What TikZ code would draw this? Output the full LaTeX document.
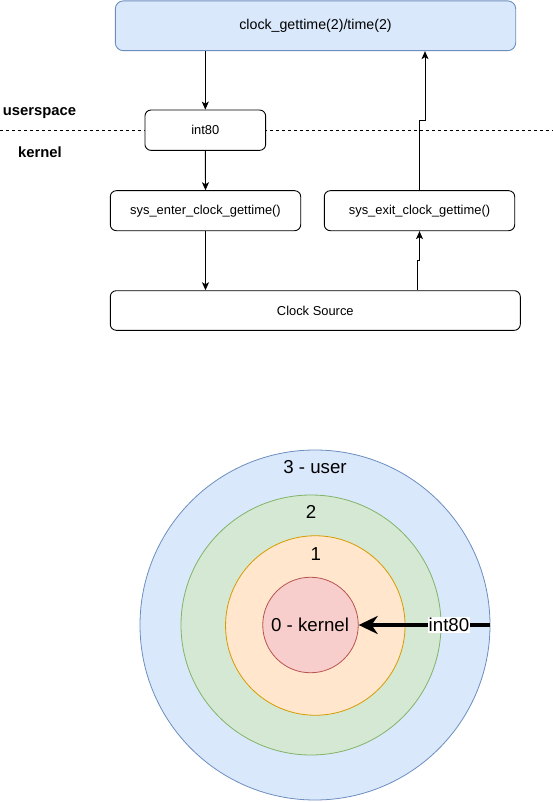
\documentclass[tikz,border=0pt]{standalone}
\usepackage{fontspec}
\setmainfont{Liberation Sans}
\usetikzlibrary{arrows.meta}
\definecolor{bluefill}{HTML}{DAE8FC}
\definecolor{bluedraw}{HTML}{6C8EBF}
\definecolor{greenfill}{HTML}{D5E8D4}
\definecolor{greendraw}{HTML}{82B366}
\definecolor{orangefill}{HTML}{FFE6CC}
\definecolor{orangedraw}{HTML}{D79B00}
\definecolor{redfill}{HTML}{F8CECC}
\definecolor{reddraw}{HTML}{B85450}
\tikzset{
  box/.style={draw=black, line width=0.9pt, rounded corners=6pt, fill=white, inner sep=0pt,
    font=\fontsize{12.9}{15}\selectfont},
  arr/.style={draw=black, line width=0.9pt, -{Stealth[length=8pt,width=7pt,inset=2pt]}},
  ring/.style={circle, line width=0.8pt, inner sep=0pt},
  bigtxt/.style={font=\fontsize{18.7}{22}\selectfont},
  sidelbl/.style={font=\bfseries\fontsize{14.8}{17}\selectfont, inner sep=0pt},
}
\begin{document}
\begin{tikzpicture}[x=1pt,y=-1pt]
\useasboundingbox (0,0) rectangle (553,802);
% dashed separator
\coordinate (dl) at (0,130);
\coordinate (dr) at (553,130);
\draw[line width=0.8pt, dash pattern=on 3pt off 3pt] (dl) -- (dr);
\node[sidelbl] (us) at (39.5,113) {userspace};
\node[sidelbl] (kn) at (40,152.5) {kernel};
% boxes
\node[box, draw=bluedraw, fill=bluefill, rounded corners=8pt, font=\fontsize{14.2}{17}\selectfont, minimum width=400.4pt, minimum height=49.8pt] (top) at (315.5,25.8) {clock\_gettime(2)/time(2)};
\node[box, minimum width=120.7pt, minimum height=40.3pt] (int) at (205.3,130.2) {int80};
\node[box, minimum width=190.4pt, minimum height=40pt] (enter) at (205.5,210.7) {sys\_enter\_clock\_gettime()};
\node[box, minimum width=190.4pt, minimum height=40pt] (exit) at (419.5,210.7) {sys\_exit\_clock\_gettime()};
\node[box, minimum width=410pt, minimum height=39.6pt] (clk) at (315.3,310.5) {Clock Source};
% connectors
\draw[arr] (int.north |- top.south) -- (int.north);
\draw[arr] (int.south) -- (enter.north);
\draw[arr] (enter.south) -- (enter.south |- clk.north);
\coordinate (j1) at (417.7,260);
\draw[arr] (clk.north -| j1) -- (j1) -- (j1 -| exit.south) -- (exit.south);
\coordinate (j2) at (425,120);
\draw[arr] (exit.north) |- (j2) -- (j2 |- top.south);
% rings
\node[ring, draw=bluedraw, fill=bluefill, minimum size=350pt] (r3) at (315,625) {};
\node[ring, draw=greendraw, fill=greenfill, minimum size=260pt] (r2) at (311,625) {};
\node[ring, draw=orangedraw, fill=orangefill, minimum size=179.5pt] (r1) at (315.3,625.5) {};
\node[ring, draw=reddraw, fill=redfill, minimum size=95.5pt] (r0) at (310.5,625) {};
\node[bigtxt] (t3) at (315,467) {3 - user};
\node[bigtxt] (t2) at (311,512) {2};
\node[bigtxt] (t1) at (315.7,554) {1};
\node[bigtxt] (t0) at (310,625) {0 - kernel};
\draw[line width=4pt, -{Stealth[length=19pt,width=18pt,inset=6pt]}] (r3.east) -- (r0.east);
\node[bigtxt, fill=white, inner sep=1pt] (lbl) at (449,625) {int80};
\end{tikzpicture}
\end{document}
